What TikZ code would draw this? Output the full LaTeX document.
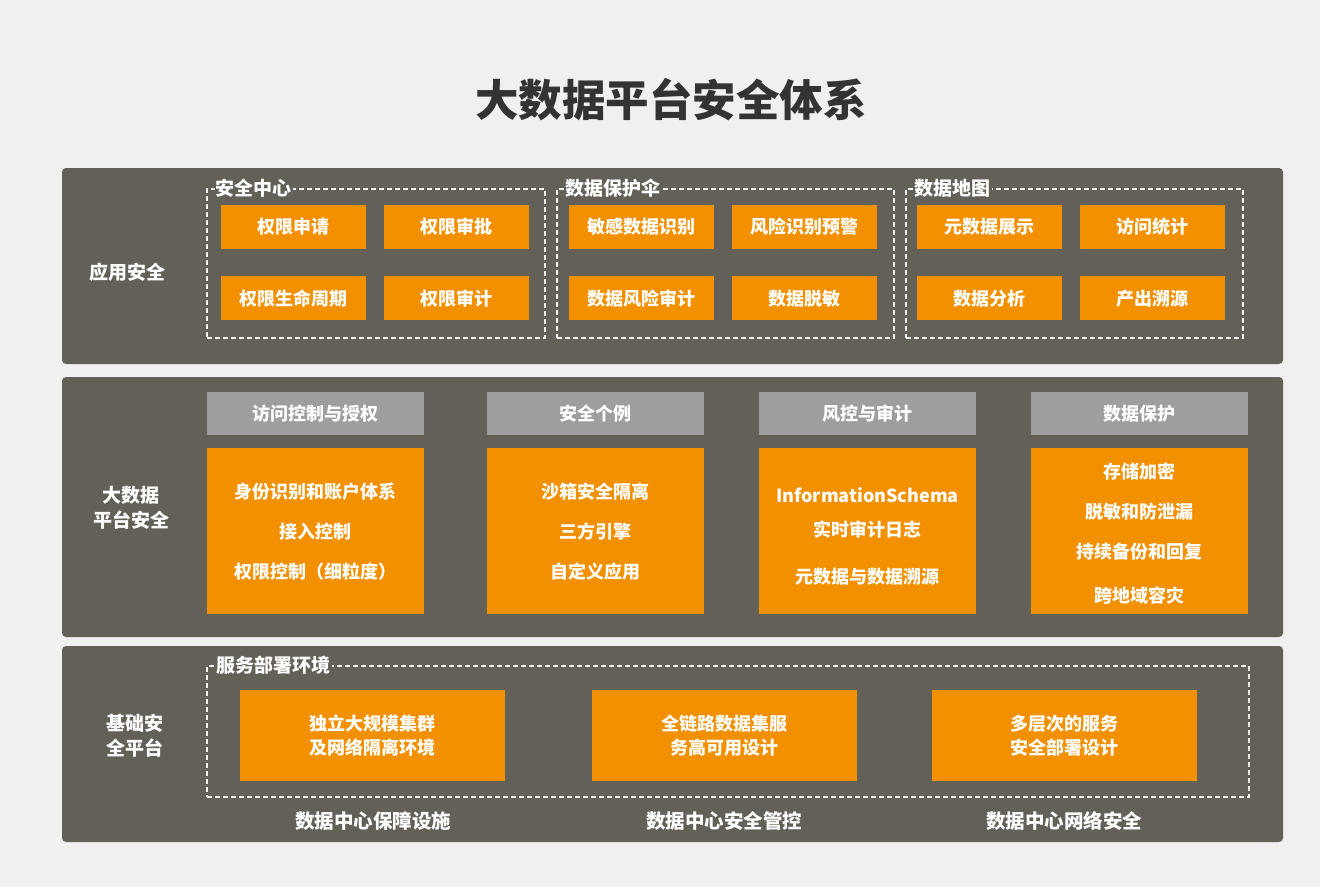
\documentclass[tikz,border=0pt]{standalone}
\usepackage{fontspec}
\setmainfont{Noto Sans CJK SC}
\usetikzlibrary{positioning}

\definecolor{bgcol}{HTML}{F0F0F0}
\definecolor{bandcol}{HTML}{636058}
\definecolor{orangecol}{HTML}{F39000}
\definecolor{headcol}{HTML}{9E9E9E}
\definecolor{titlecol}{HTML}{333333}

\begin{document}
\begin{tikzpicture}[
    x=1pt, y=-1pt,
    band/.style={fill=bandcol, rounded corners=4pt, inner sep=0pt},
    group/.style={draw=white!90!gray, dash pattern=on 5pt off 3pt, line width=1.2pt, inner sep=0pt},
    grplabel/.style={fill=bandcol, text=white, inner sep=1pt, font=\fontsize{19}{22}\selectfont\bfseries},
    sidelabel/.style={text=white, align=center, font=\fontsize{19}{25}\selectfont\bfseries},
    footlabel/.style={text=white, font=\fontsize{19.5}{22}\selectfont\bfseries},
    cell/.style={fill=orangecol, text=white, inner sep=0pt, minimum width=145pt, minimum height=44pt, font=\fontsize{18}{21}\selectfont\bfseries},
    head/.style={fill=headcol, text=white, inner sep=0pt, minimum width=217pt, minimum height=43pt, font=\fontsize{18}{21}\selectfont\bfseries},
    body/.style={fill=orangecol, inner sep=0pt, minimum width=217pt, minimum height=166pt},
    bodytext/.style={text=white, align=center, font=\fontsize{18}{40}\selectfont\bfseries},
    wide/.style={fill=orangecol, text=white, align=center, inner sep=0pt, minimum width=265pt, minimum height=91pt, font=\fontsize{18}{24}\selectfont\bfseries}
]

\fill[bgcol] (0,0) rectangle (1320,887);
\useasboundingbox (0,0) rectangle (1320,887);

% Title ------------------------------------------------------

\node[text=titlecol, font=\fontsize{43.5}{48}\selectfont\bfseries] (title) at (671,100) {大数据平台安全体系};

% Bands ------------------------------------------------------

\node[band, minimum width=1221pt, minimum height=196pt] (app) at (672.5,266) {};
\node[band, minimum width=1221pt, minimum height=260pt] (plat) at (672.5,507) {};
\node[band, minimum width=1221pt, minimum height=196pt] (base) at (672.5,744) {};

\node[sidelabel] (appname) at (127,272) {应用安全};
\node[sidelabel] (platname) at (131,508) {大数据\\平台安全};
\node[sidelabel] (basename) at (135,736) {基础安\\全平台};

% Application security ---------------------------------------

\node[group, minimum width=338pt, minimum height=149pt] (g1) at (376,263.5) {};
\node[group, minimum width=337pt, minimum height=149pt] (g2) at (725.5,263.5) {};
\node[group, minimum width=337pt, minimum height=149pt] (g3) at (1074.5,263.5) {};

\node[grplabel, anchor=west] (g1name) at ([xshift=8pt]g1.north west) {安全中心};
\node[grplabel, anchor=west] (g2name) at ([xshift=8pt]g2.north west) {数据保护伞};
\node[grplabel, anchor=west] (g3name) at ([xshift=8pt]g3.north west) {数据地图};

\node[cell] (a1) at (293.5,227) {权限申请};
\node[cell, right=18pt of a1] (a2) {权限审批};
\node[cell, below=27pt of a1] (a3) {权限生命周期};
\node[cell, right=18pt of a3] (a4) {权限审计};

\node[cell] (b1) at (641.5,227) {敏感数据识别};
\node[cell, right=18pt of b1] (b2) {风险识别预警};
\node[cell, below=27pt of b1] (b3) {数据风险审计};
\node[cell, right=18pt of b3] (b4) {数据脱敏};

\node[cell] (c1) at (989.5,227) {元数据展示};
\node[cell, right=18pt of c1] (c2) {访问统计};
\node[cell, below=27pt of c1] (c3) {数据分析};
\node[cell, right=18pt of c3] (c4) {产出溯源};

% Platform security ------------------------------------------

\node[head] (h1) at (315.5,413.5) {访问控制与授权};
\node[head] (h2) at (595.5,413.5) {安全个例};
\node[head] (h3) at (867.5,413.5) {风控与审计};
\node[head] (h4) at (1139.5,413.5) {数据保护};

\node[body, below=13pt of h1] (p1) {};
\node[body, below=13pt of h2] (p2) {};
\node[body, below=13pt of h3] (p3) {};
\node[body, below=13pt of h4] (p4) {};

\node[bodytext] (t1) at (p1) {身份识别和账户体系\\接入控制\\权限控制（细粒度）};
\node[bodytext] (t2) at (p2) {沙箱安全隔离\\三方引擎\\自定义应用};
\node[bodytext] (t3) at ([yshift=-5pt]p3.center) {InformationSchema\\[-6pt]实时审计日志\\[7pt]元数据与数据溯源};
\node[bodytext] (t4) at ([yshift=-2pt]p4.center) {存储加密\\脱敏和防泄漏\\持续备份和回复\\[4pt]跨地域容灾};

% Base platform ----------------------------------------------

\node[group, minimum width=1042pt, minimum height=131pt] (g4) at (728,731.5) {};
\node[grplabel, anchor=west] (g4name) at ([xshift=9pt]g4.north west) {服务部署环境};

\node[wide] (d1) at (372.5,735.5) {独立大规模集群\\及网络隔离环境};
\node[wide] (d2) at (724.5,735.5) {全链路数据集服\\务高可用设计};
\node[wide] (d3) at (1064.5,735.5) {多层次的服务\\安全部署设计};

\node[footlabel] (f1) at (373,821) {数据中心保障设施};
\node[footlabel] (f2) at (724,821) {数据中心安全管控};
\node[footlabel] (f3) at (1064,821) {数据中心网络安全};

\end{tikzpicture}
\end{document}
